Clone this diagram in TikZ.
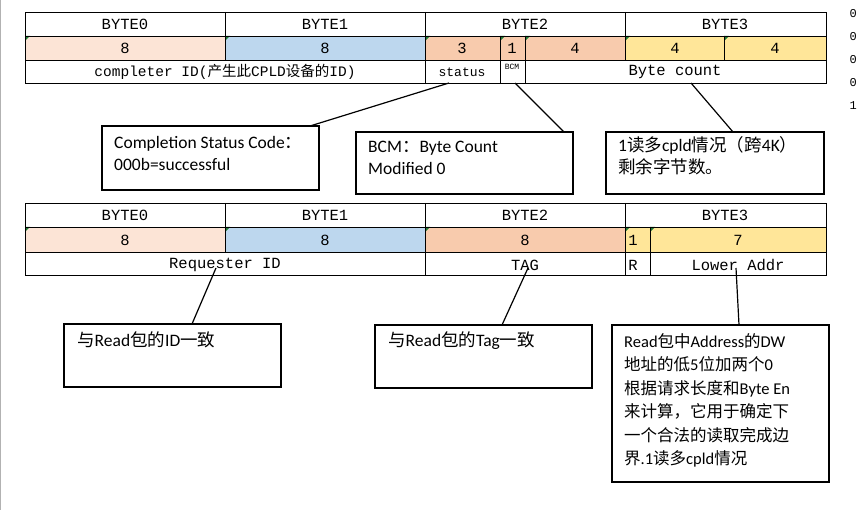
\documentclass[tikz,border=0pt]{standalone}
\usepackage{fontspec}
\setmainfont{Liberation Mono}
\newfontfamily\cjk{Noto Sans CJK SC}
\newfontfamily\boxf{Carlito}
\newcommand{\zh}[1]{{\cjk #1}}
\definecolor{cA}{HTML}{FCE4D6}
\definecolor{cB}{HTML}{BDD7EE}
\definecolor{cC}{HTML}{F8CBAD}
\definecolor{cD}{HTML}{FFE699}
\definecolor{gmark}{HTML}{1E7B34}
\begin{document}
\begin{tikzpicture}[x=1pt,y=-1pt,
  cell/.style={draw=black,line width=0.8pt},
  tt/.style={font=\fontsize{15.5}{17}\selectfont,inner sep=0pt},
  note/.style={draw=black,line width=2pt},
  nt/.style={font=\boxf\fontsize{17.5}{22}\selectfont,align=left,anchor=north west,inner sep=0pt},
  lead/.style={line width=1.2pt}]
\useasboundingbox (0,0) rectangle (858,510);
\fill[white] (0,0) rectangle (858,510);
\draw[gray!60,line width=1pt] (0.5,0)--(0.5,510);
% ---------- table 1 ----------
\fill[cA] (25,36) rectangle (225,60);
\fill[cB] (225,36) rectangle (425,60);
\fill[cC] (425,36) rectangle (625,60);
\fill[cD] (625,36) rectangle (826,60);
\foreach \x in {25,225,425,500,525,625,724}{\fill[gmark] (\x,36)--(\x+5,36)--(\x,41)--cycle;}
\draw[cell] (25,12) rectangle (826,83);
\draw[cell] (25,36)--(826,36) (25,60)--(826,60);
\foreach \x in {225,425,625}{\draw[cell] (\x,12)--(\x,60);}
\draw[cell] (500,36)--(500,83) (525,36)--(525,83) (724,36)--(724,60) (425,60)--(425,83);
\node[tt] (h0) at (125,24) {BYTE0};
\node[tt] (h1) at (325,24) {BYTE1};
\node[tt] (h2) at (525,24) {BYTE2};
\node[tt] (h3) at (725,24) {BYTE3};
\node[tt] (b0) at (125,48) {8};
\node[tt] (b1) at (325,48) {8};
\node[tt] (b2) at (462,48) {3};
\node[tt] (b3) at (512,48) {1};
\node[tt] (b4) at (575,48) {4};
\node[tt] (b5) at (675,48) {4};
\node[tt] (b6) at (775,48) {4};
\node[tt,font=\fontsize{14.5}{16}\selectfont] (l0) at (225,72) {completer ID(\zh{产生此}CPLD\zh{设备的}ID)};
\node[tt,font=\fontsize{13}{14}\selectfont] (l1) at (462,72) {status};
\node[tt,font=\fontsize{8}{9}\selectfont] (l2) at (512,67) {BCM};
\node[tt] (l3) at (675,72) {Byte count};
\coordinate (p1) at (449,83);
\coordinate (p2) at (515,83);
\coordinate (p3) at (691,83);
% notes 1
\draw[note] (102,126) rectangle (319,190);
\node[nt] (n1) at (114,136) {Completion Status Code\zh{：}\\000b=successful};
\draw[note] (356,132) rectangle (573,194);
\node[nt] (n2) at (368,141) {BCM\zh{：}Byte Count\\Modified 0};
\draw[note] (606,132) rectangle (824,194);
\node[nt] (n3) at (618,136) {1\zh{读多}cpld\zh{情况（跨}4K\zh{）}\\\zh{剩余字节数。}};
\coordinate (q1) at (310,126);
\coordinate (q2) at (564,132);
\coordinate (q3) at (733,132);
\draw[lead] (q1)--(p1) (q2)--(p2) (q3)--(p3);
% ---------- table 2 ----------
\fill[cA] (25,227) rectangle (225,252);
\fill[cB] (225,227) rectangle (425,252);
\fill[cC] (425,227) rectangle (625,252);
\fill[cD] (625,227) rectangle (826,252);
\foreach \x in {25,225,425,625,650}{\fill[gmark] (\x,227)--(\x+5,227)--(\x,232)--cycle;}
\draw[cell] (25,203) rectangle (826,275);
\draw[cell] (25,227)--(826,227) (25,252)--(826,252);
\foreach \x in {225,425,625}{\draw[cell] (\x,203)--(\x,227);}
\draw[cell] (225,227)--(225,252) (425,227)--(425,275) (625,227)--(625,275) (650,227)--(650,275);
\node[tt] (H0) at (125,215) {BYTE0};
\node[tt] (H1) at (325,215) {BYTE1};
\node[tt] (H2) at (525,215) {BYTE2};
\node[tt] (H3) at (725,215) {BYTE3};
\node[tt] (B0) at (125,240) {8};
\node[tt] (B1) at (325,240) {8};
\node[tt] (B2) at (525,240) {8};
\node[tt] (B3) at (633,240) {1};
\node[tt] (B4) at (738,240) {7};
\node[tt] (L0) at (225,265) {Requester ID};
\node[tt] (L1) at (525,265) {TAG};
\node[tt] (L2) at (633,265) {R};
\node[tt] (L3) at (738,265) {Lower Addr};
\coordinate (P1) at (216,268);
\coordinate (P2) at (528,268);
\coordinate (P3) at (736,268);
\draw[note] (64,324) rectangle (281,387);
\node[nt] (N1) at (77,332) {\zh{与}Read\zh{包的}ID\zh{一致}};
\draw[note] (375,325) rectangle (592,388);
\node[nt] (N2) at (388,332) {\zh{与}Read\zh{包的}Tag\zh{一致}};
\draw[note] (612,325) rectangle (829,482);
\node[nt,font=\boxf\fontsize{16.5}{23.5}\selectfont] (N3) at (624,333) {Read\zh{包中}Address\zh{的}DW\\\zh{地址的低}5\zh{位加两个}0\\\zh{根据请求长度和}Byte En\\\zh{来计算，它用于确定下}\\\zh{一个合法的读取完成边}\\\zh{界}.1\zh{读多}cpld\zh{情况}};
\coordinate (Q1) at (192,324);
\coordinate (Q2) at (502,325);
\coordinate (Q3) at (739,325);
\draw[lead] (Q1)--(P1) (Q2)--(P2) (Q3)--(P3);
% edge text
\foreach \t/\y in {0/14,0/37,0/60,0/83,1/106}{\node[font=\fontsize{12}{14}\selectfont,inner sep=0pt,anchor=east] at (857,\y) {\t};}
\end{tikzpicture}
\end{document}
